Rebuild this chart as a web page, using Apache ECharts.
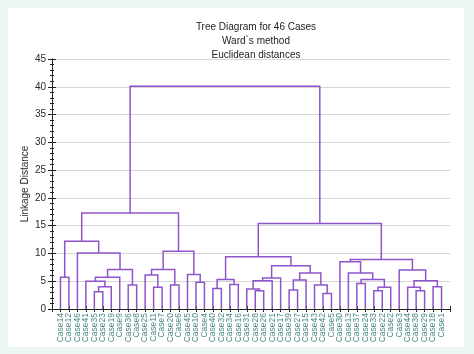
<!DOCTYPE html>
<html>
<head>
<meta charset="utf-8">
<script src="https://cdn.jsdelivr.net/npm/echarts@6/dist/echarts.min.js"></script>
<style>
  html, body { margin: 0; padding: 0; }
  #tree { width: 474px; height: 354px; }
</style>
</head>
<body>
<div id="tree"></div>
<script>
  // leaf order along the x axis
  const leaves = ['Case14', 'Case12', 'Case46', 'Case41', 'Case35', 'Case23', 'Case19', 'Case9', 'Case36', 'Case8',
    'Case25', 'Case11', 'Case7', 'Case20', 'Case6', 'Case45', 'Case10', 'Case4', 'Case40', 'Case32',
    'Case34', 'Case16', 'Case31', 'Case28', 'Case26', 'Case21', 'Case17', 'Case39', 'Case27', 'Case15',
    'Case43', 'Case42', 'Case5', 'Case30', 'Case13', 'Case37', 'Case24', 'Case33', 'Case22', 'Case2',
    'Case3', 'Case44', 'Case38', 'Case29', 'Case18', 'Case1']
  // merges: [left, right, linkage distance], '#k' = result of merge k
  const merges = [
    ['Case14', 'Case12', 5.7], ['Case35', 'Case23', 3.1], ['#1', 'Case19', 4.0], ['Case41', '#2', 5.0],
    ['#3', 'Case9', 5.7], ['Case36', 'Case8', 4.3], ['#4', '#5', 7.1], ['Case46', '#6', 10.1],
    ['#0', '#7', 12.2], ['Case11', 'Case7', 3.9], ['Case25', '#9', 6.1], ['Case20', 'Case6', 4.3],
    ['#10', '#11', 7.1], ['Case10', 'Case4', 4.8], ['Case45', '#13', 6.2], ['#12', '#14', 10.4],
    ['#8', '#15', 17.3], ['Case40', 'Case32', 3.7], ['Case34', 'Case16', 4.4], ['#17', '#18', 5.3],
    ['Case28', 'Case26', 3.3], ['Case31', '#20', 3.6], ['#21', 'Case21', 5.1], ['#22', 'Case17', 5.6],
    ['Case39', 'Case27', 3.4], ['#24', 'Case15', 5.2], ['Case42', 'Case5', 2.8], ['Case43', '#26', 4.3],
    ['#25', '#27', 6.5], ['#23', '#28', 7.8], ['#19', '#29', 9.4], ['Case37', 'Case24', 4.6],
    ['Case33', 'Case22', 3.3], ['#32', 'Case2', 3.9], ['#31', '#33', 5.3], ['Case13', '#34', 6.5],
    ['Case30', '#35', 8.5], ['Case38', 'Case29', 3.3], ['Case44', '#37', 3.9], ['Case18', 'Case1', 4.0],
    ['#38', '#39', 5.1], ['Case3', '#40', 7.0], ['#36', '#41', 8.9], ['#30', '#42', 15.4],
    ['#16', '#43', 40.1]
  ]
  const titleLines = ['Tree Diagram for 46 Cases', 'Ward`s method', 'Euclidean distances']

  // position of a node: [x, height]
  const nodes = merges.map(() => null)
  function pos(ref) {
    if (ref[0] === '#') return nodes[+ref.slice(1)]
    return [leaves.indexOf(ref) + 1, 0]
  }
  const links = merges.map((m, i) => {
    const a = pos(m[0])
    const b = pos(m[1])
    nodes[i] = [(a[0] + b[0]) / 2, m[2]]
    return { coords: [a, [a[0], m[2]], [b[0], m[2]], b] }
  })

  const chart = echarts.init(document.getElementById('tree'))
  const lab = { fontFamily: 'Liberation Sans', fontSize: 10, color: '#2a2a2a' }
  chart.setOption({
    backgroundColor: '#ecf7f2',
    animation: false,
    graphic: [{
      type: 'rect', z: -10, shape: { x: 8, y: 8, width: 456, height: 339 },
      style: { fill: '#fff' }
    }],
    title: {
      text: titleLines.join('\n'),
      left: 251, top: 15, textAlign: 'center',
      textStyle: { fontFamily: 'Liberation Sans', fontSize: 10, fontWeight: 'normal', color: '#222', lineHeight: 14 }
    },
    grid: { left: 52, right: 24, top: 59, bottom: 45 },
    xAxis: [{
      type: 'value', min: 0, max: 47, interval: 1,
      axisLine: { lineStyle: { color: '#222', width: 1 } },
      axisTick: { inside: true, length: 3, lineStyle: { color: '#222' } },
      splitLine: { show: false },
      axisLabel: {
        rotate: 90, margin: 4, fontFamily: 'Liberation Sans', fontSize: 8.5, color: '#4a8a84',
        formatter: (v) => leaves[v - 1] || ''
      }
    }, {
      type: 'value', position: 'top', min: 0, max: 47, interval: 1,
      axisLine: { show: true, lineStyle: { color: '#222', width: 1 } },
      axisTick: { inside: true, length: 3, lineStyle: { color: '#222' } },
      splitLine: { show: false },
      axisLabel: { show: false }
    }],
    yAxis: [{
      type: 'value', min: 0, max: 45, interval: 5,
      name: 'Linkage Distance', nameLocation: 'middle', nameGap: 22, nameMoveOverlap: false,
      nameTextStyle: lab,
      axisLine: { show: true, lineStyle: { color: '#222', width: 1 } },
      axisTick: { inside: true, length: 4, lineStyle: { color: '#222' } },
      minorTick: { show: true, splitNumber: 5, length: 2, lineStyle: { color: '#222' } },
      splitLine: { lineStyle: { color: '#d6d6d6' } },
      axisLabel: Object.assign({ margin: 6 }, lab)
    }, {
      type: 'value', position: 'right', min: 0, max: 45, interval: 5,
      axisLine: { show: true, lineStyle: { color: '#222', width: 1 } },
      axisTick: { inside: true, length: 4, lineStyle: { color: '#222' } },
      minorTick: { show: true, splitNumber: 5, length: 2, lineStyle: { color: '#222' } },
      splitLine: { show: false },
      axisLabel: { show: false }
    }],
    series: [{
      type: 'lines',
      coordinateSystem: 'cartesian2d',
      polyline: true,
      silent: true,
      lineStyle: { color: '#8e55ca', width: 1.5, opacity: 1 },
      data: links
    }]
  })
</script>
</body>
</html>
